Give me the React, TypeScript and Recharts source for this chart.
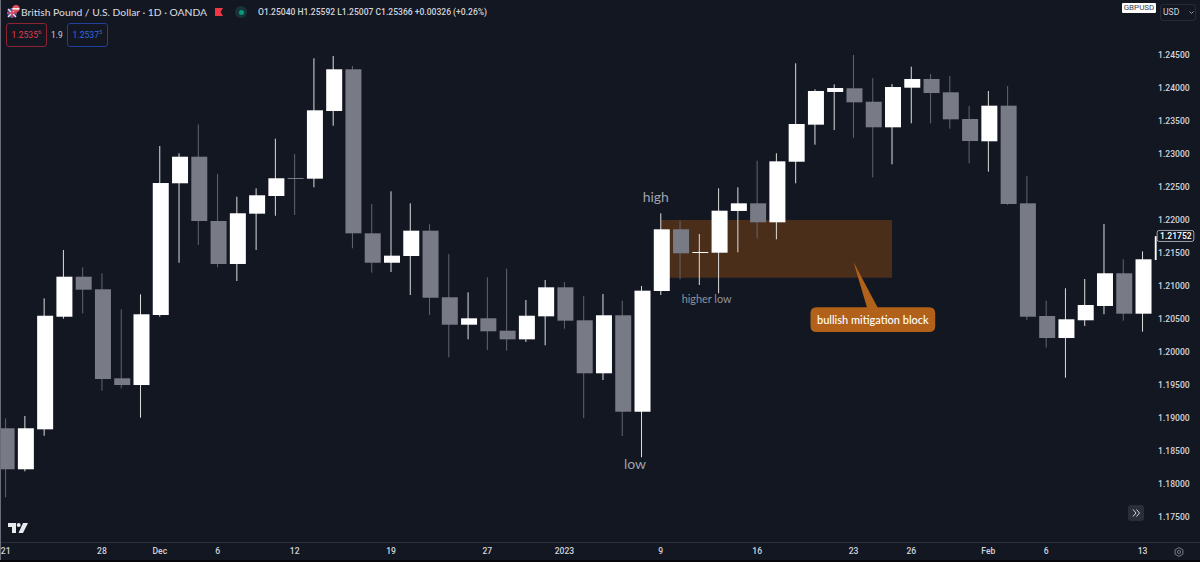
import React from "react";
import { ComposedChart, Bar, XAxis, YAxis, ReferenceArea, ReferenceDot } from "recharts";

const dates = [
  "2022-11-21","2022-11-22","2022-11-23","2022-11-24","2022-11-25","2022-11-28","2022-11-29","2022-11-30","2022-12-01","2022-12-02",
  "2022-12-05","2022-12-06","2022-12-07","2022-12-08","2022-12-09","2022-12-12","2022-12-13","2022-12-14","2022-12-15","2022-12-16",
  "2022-12-19","2022-12-20","2022-12-21","2022-12-22","2022-12-23","2022-12-27","2022-12-28","2022-12-29","2022-12-30","2023-01-02",
  "2023-01-03","2023-01-04","2023-01-05","2023-01-06","2023-01-09","2023-01-10","2023-01-11","2023-01-12","2023-01-13","2023-01-16",
  "2023-01-17","2023-01-18","2023-01-19","2023-01-20","2023-01-23","2023-01-24","2023-01-25","2023-01-26","2023-01-27","2023-01-30",
  "2023-01-31","2023-02-01","2023-02-02","2023-02-03","2023-02-06","2023-02-07","2023-02-08","2023-02-09","2023-02-10","2023-02-13",
  "2023-02-14",
];
const opens = [
  1.18838,1.18216,1.18822,1.20530,1.21137,1.20946,1.19596,1.19494,1.20556,1.22554,
  1.22957,1.21982,1.21330,1.22093,1.22361,1.22634,1.22624,1.23650,1.24283,1.21795,
  1.21349,1.21451,1.21835,1.20825,1.20409,1.20506,1.20318,1.20187,1.20536,1.20976,
  1.20476,1.19672,1.20552,1.19089,1.20920,1.21856,1.21503,1.21501,1.22134,1.22250,
  1.21962,1.22881,1.23443,1.23939,1.23995,1.23791,1.23403,1.24004,1.24136,1.23934,
  1.23529,1.23191,1.23731,1.22250,1.20541,1.20207,1.20476,1.20693,1.21189,1.20576,
  1.21390,
];
const highs = [
  1.18989,1.19024,1.20809,1.21542,1.21280,1.21189,1.20643,1.20870,1.23119,1.23009,
  1.23449,1.22695,1.22350,1.22478,1.23230,1.22998,1.24450,1.24485,1.24333,1.22240,
  1.22432,1.22250,1.21932,1.21481,1.20900,1.21128,1.21258,1.20784,1.21087,1.21057,
  1.20844,1.20875,1.20773,1.20996,1.22099,1.21986,1.21785,1.22478,1.22493,1.22897,
  1.23009,1.24374,1.23979,1.24055,1.24500,1.24151,1.24060,1.24322,1.24212,1.24181,
  1.23726,1.23954,1.24030,1.22664,1.20773,1.20961,1.21102,1.21936,1.21401,1.21522,
  1.21752,
];
const lows = [
  1.17791,1.18185,1.18725,1.20500,1.20582,1.19408,1.19444,1.18998,1.20530,1.21349,
  1.21618,1.21280,1.21072,1.21542,1.22062,1.22073,1.22493,1.23427,1.21568,1.21198,
  1.21208,1.20859,1.20556,1.19914,1.20187,1.20025,1.20015,1.20147,1.20096,1.20348,
  1.18994,1.19570,1.18721,1.18398,1.20859,1.21098,1.21011,1.20885,1.21507,1.21719,
  1.21704,1.22554,1.23139,1.23362,1.23245,1.22645,1.22842,1.23464,1.23464,1.23382,
  1.22857,1.22730,1.22225,1.20480,1.20060,1.19605,1.20389,1.20567,1.20470,1.20303,
  1.21390,
];
const closes = [
  1.18216,1.18838,1.20545,1.21137,1.20940,1.19585,1.19494,1.20567,1.22558,1.22957,
  1.21982,1.21330,1.22099,1.22372,1.22630,1.22625,1.23661,1.24283,1.21795,1.21349,
  1.21456,1.21835,1.20818,1.20409,1.20506,1.20309,1.20187,1.20545,1.20976,1.20470,
  1.19672,1.20552,1.19089,1.20925,1.21856,1.21492,1.21512,1.22138,1.22250,1.21962,
  1.22887,1.23453,1.23954,1.23999,1.23782,1.23403,1.24014,1.24136,1.23923,1.23524,
  1.23195,1.23731,1.22240,1.20530,1.20207,1.20491,1.20708,1.21189,1.20576,1.21401,
  1.21752,
];
const xTickDates = ["2022-11-21","2022-11-28","2022-12-01","2022-12-06","2022-12-12","2022-12-19","2022-12-27","2023-01-02","2023-01-09","2023-01-16","2023-01-23","2023-01-26","2023-02-01","2023-02-06","2023-02-13"];
const xTickLabels = ["21","28","Dec","6","12","19","27","2023","9","16","23","26","Feb","6","13"];
const yTicks = [1.175,1.18,1.185,1.19,1.195,1.2,1.205,1.21,1.215,1.22,1.225,1.23,1.235,1.24,1.245];

const zoneTop = 1.21997;
const zoneBottom = 1.21122;
const zoneFirstBar = 34;
const zoneLastBar = 46;
const lastPrice = 1.21752;

const rows = dates.map((date, i) => ({
  date,
  index: i,
  up: closes[i] >= opens[i],
  body: [Math.min(opens[i], closes[i]), Math.max(opens[i], closes[i])],
  wick: [lows[i], highs[i]],
}));

const BG = "#131722";
const UP = "#ffffff";
const DOWN = "#787b86";
const BAND = 19.27;
const CHART_LEFT = -(BAND / 2 - 6);
const BAR_COUNT = dates.length;
const PLOT_W = BAND * BAR_COUNT;
const CHART_W = 1200 - CHART_LEFT;
const CLIP_W = 1157 - CHART_LEFT;
const FONT = "Roboto, sans-serif";
const NOTE_FONT = "Lato, sans-serif";

const BodyShape = (p: any) => (
  <g clipPath="url(#plotClip)">
    <rect x={p.x + 0.6} y={p.y} width={p.width} height={Math.max(p.height, 1)} fill={p.payload.up ? UP : DOWN} />
  </g>
);
const WickShape = (p: any) => (
  <g clipPath="url(#plotClip)">
    <rect x={p.x + 0.1} y={p.y} width={p.width} height={p.height} fill={p.payload.up ? "#dcdcdc" : "#62656f"} />
  </g>
);

const note = (text: string, dx: number, dy: number, size: number, fill: string) => (p: any) => (
  <text x={p.cx + dx} y={p.cy + dy} fontSize={size} fill={fill} fontFamily={NOTE_FONT} textAnchor="middle">{text}</text>
);

const Callout = (p: any) => {
  const { cx, cy } = p;
  const x0 = cx - 43, x1 = cx + 81.7, y0 = cy + 45.3, y1 = cy + 70;
  const r = 6;
  const d = `M${x0 + r} ${y0} L${cx + 13.4} ${y0} L${cx} ${cy} L${cx + 24} ${y0} L${x1 - r} ${y0} Q${x1} ${y0} ${x1} ${y0 + r} L${x1} ${y1 - r} Q${x1} ${y1} ${x1 - r} ${y1} L${x0 + r} ${y1} Q${x0} ${y1} ${x0} ${y1 - r} L${x0} ${y0 + r} Q${x0} ${y0} ${x0 + r} ${y0} Z`;
  return (
    <g>
      <path d={d} fill="#b2611a" />
      <text x={(x0 + x1) / 2} y={y0 + 16.3} fontSize={11} fontWeight={500} fill="#ffffff" fontFamily={NOTE_FONT} textAnchor="middle">bullish mitigation block</text>
    </g>
  );
};

const LastPriceTag = (p: any) => (
  <g>
    <rect x={p.cx - 4.7} y={p.cy - 5.7} width={36.7} height={11} rx={2} fill={BG} stroke="#c8c9cd" strokeWidth={0.8} />
    <text x={p.cx + 14} y={p.cy + 2.8} fontSize={8.6} fontWeight={500} fill="#ffffff" fontFamily={FONT} textAnchor="middle">1.21752</text>
  </g>
);

const abs = (left: number, top: number, extra: React.CSSProperties = {}): React.CSSProperties => ({ position: "absolute", left, top, whiteSpace: "nowrap", ...extra });

const Header = () => (
  <>
    <svg style={abs(7, 4)} width={13} height={15} viewBox="0 0 13 15">
      <circle cx={5} cy={9} r={5} fill="#2c4a9a" />
      <path d="M1 5 L9 13 M9 5 L1 13" stroke="#f2d9de" strokeWidth={1.6} />
      <path d="M5 4 V14 M0 9 H10" stroke="#e0455a" strokeWidth={1.4} />
      <circle cx={9} cy={4.5} r={3.6} fill="#e8505f" />
      <rect x={5.4} y={4} width={7} height={1.6} fill="#f2f2f2" />
    </svg>
    <div style={abs(21, 5, { font: `500 10.3px ${NOTE_FONT}`, color: "#d1d4dc", lineHeight: "14px" })}>British Pound / U.S. Dollar · 1D · OANDA</div>
    <svg style={abs(215, 8)} width={8} height={8} viewBox="0 0 8 8"><path d="M0 0 H8 L5.5 4 L8 8 H0 Z" fill="#f23645" /></svg>
    <div style={abs(235, 6, { width: 12, height: 12, borderRadius: 6, background: "#17343a" })} />
    <div style={abs(238.5, 9.5, { width: 5, height: 5, borderRadius: 3, background: "#089981" })} />
    <div style={abs(258, 6, { font: `500 8.55px ${FONT}`, color: "#d1d4dc", lineHeight: "12px" })}>O1.25040 H1.25592 L1.25007 C1.25366 +0.00326 (+0.26%)</div>
    <div style={abs(6, 23, { width: 39, height: 22, border: "1px solid #8c2330", borderRadius: 3, font: `400 8.6px ${FONT}`, color: "#e23b4c", textAlign: "center", lineHeight: "22px" })}>1.2535<sup style={{ fontSize: 6, lineHeight: 0 }}>6</sup></div>
    <div style={abs(51, 30, { font: `400 8.4px ${FONT}`, color: "#d1d4dc", lineHeight: "11px" })}>1.9</div>
    <div style={abs(67, 23, { width: 39, height: 22, border: "1px solid #20409a", borderRadius: 3, font: `400 8.6px ${FONT}`, color: "#3565e8", textAlign: "center", lineHeight: "22px" })}>1.2537<sup style={{ fontSize: 6, lineHeight: 0 }}>5</sup></div>
    <div style={abs(1122, 3, { width: 34, height: 10, background: "#ffffff", color: "#3a3e4a", font: `400 8px ${FONT}`, textAlign: "center", lineHeight: "10px", borderRadius: 1 })}>GBPUSD</div>
    <div style={abs(1160, 4, { width: 36, height: 17, border: "1px solid #262b38", borderRadius: 3, boxSizing: "border-box", color: "#d1d4dc", font: `400 8.6px ${FONT}`, lineHeight: "15px", paddingLeft: 2 })}>USD</div>
    <svg style={abs(1189, 11)} width={5} height={4} viewBox="0 0 5 4"><path d="M0.5 0.5 L2.5 2.5 L4.5 0.5" stroke="#9598a1" fill="none" /></svg>
  </>
);

const Footer = () => (
  <>
    <svg style={abs(8, 523)} width={20} height={10} viewBox="0 0 20 10">
      <path d="M0 0 H8 V10 H4 V4 H0 Z" fill="#e8e9ec" />
      <circle cx={10.7} cy={2} r={2} fill="#e8e9ec" />
      <path d="M15 0 H20 L15 10 H10.5 Z" fill="#e8e9ec" />
    </svg>
    <div style={abs(1128, 505, { width: 16, height: 16, borderRadius: 3, background: "#2a2e39" })} />
    <svg style={abs(1132, 509)} width={9} height={8} viewBox="0 0 9 8"><path d="M1 0.5 L4 4 L1 7.5 M4.5 0.5 L7.5 4 L4.5 7.5" stroke="#d1d4dc" fill="none" /></svg>
    <svg style={abs(1174, 547)} width={10} height={10} viewBox="0 0 10 10">
      <path d="M5 .6 L8.9 2.8 V7.2 L5 9.4 L1.1 7.2 V2.8 Z" fill="none" stroke="#787b86" />
      <circle cx={5} cy={5} r={1.6} fill="none" stroke="#787b86" />
    </svg>
    <div style={abs(0, 542, { width: 1200, height: 1, background: "#2a2e39" })} />
    <div style={abs(0, 0, { width: 1, height: 562, background: "#6a6d78" })} />
    <div style={abs(0, 560, { width: 1200, height: 2, background: "#05070c" })} />
  </>
);

export default function App() {
  return (
    <div style={{ position: "absolute", left: 0, top: 0, width: 1200, height: 562, background: BG, overflow: "hidden" }}>
      <div style={{ position: "absolute", left: CHART_LEFT, top: 0 }}>
        <ComposedChart
          width={CHART_W}
          height={562}
          data={rows}
          margin={{ top: 0, right: 0, bottom: 0, left: 0 }}
          barGap={0}
          style={{ background: "transparent" }}
        >
          <defs>
            <clipPath id="plotClip"><rect x={0} y={0} width={CLIP_W} height={542} /></clipPath>
          </defs>
          <XAxis
            xAxisId="main"
            dataKey="date"
            type="category"
            height={20}
            interval={0}
            ticks={xTickDates}
            tickFormatter={(v: string) => xTickLabels[xTickDates.indexOf(v)]}
            tick={{ fill: "#d1d4dc", fontSize: 8.6, fontWeight: 500, fontFamily: FONT }}
            tickLine={false}
            axisLine={false}
            tickMargin={0}
          />
          <XAxis xAxisId="wick" dataKey="date" type="category" hide height={0} />
          <XAxis xAxisId="idx" dataKey="index" type="number" domain={[-0.5, BAR_COUNT - 0.5]} allowDataOverflow hide height={0} />
          <YAxis
            yAxisId="price"
            orientation="right"
            width={CHART_W - PLOT_W}
            type="number"
            domain={[1.17113, 1.25334]}
            allowDataOverflow
            ticks={yTicks}
            interval={0}
            tickFormatter={(v: number) => v.toFixed(5)}
            tick={{ fill: "#d1d4dc", fontSize: 8.6, fontWeight: 500, fontFamily: FONT, textAnchor: "end", dx: 12.2 }}
            tickLine={false}
            axisLine={false}
            tickMargin={0}
          />
          <ReferenceArea xAxisId="idx" yAxisId="price" x1={zoneFirstBar} x2={zoneLastBar} y1={zoneBottom} y2={zoneTop} fill="#4a2e1a" fillOpacity={1} stroke="none" />
          <Bar xAxisId="wick" yAxisId="price" dataKey="wick" barSize={1} shape={WickShape} isAnimationActive={false} />
          <Bar xAxisId="main" yAxisId="price" dataKey="body" barSize={16} shape={BodyShape} isAnimationActive={false} />
          <ReferenceDot xAxisId="idx" yAxisId="price" x={34} y={highs[34]} r={0} shape={note("high", -5, -11, 14, "#9fa2ab")} ifOverflow="visible" />
          <ReferenceDot xAxisId="idx" yAxisId="price" x={33} y={lows[33]} r={0} shape={note("low", -6.5, 12, 14, "#9fa2ab")} ifOverflow="visible" />
          <ReferenceDot xAxisId="idx" yAxisId="price" x={37} y={lows[37]} r={0} shape={note("higher low", -12, 10, 10.9, "#8f929b")} ifOverflow="visible" />
          <ReferenceDot xAxisId="idx" yAxisId="price" x={44} y={1.21360} r={0} shape={Callout} ifOverflow="visible" />
          <ReferenceDot xAxisId="idx" yAxisId="price" x={60} y={lastPrice} r={0} shape={LastPriceTag} ifOverflow="visible" />
        </ComposedChart>
      </div>
      <Header />
      <Footer />
    </div>
  );
}
